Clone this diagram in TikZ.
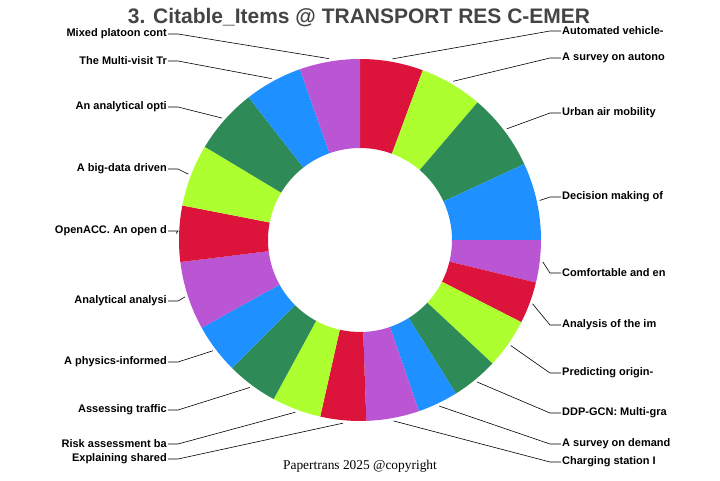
\documentclass[tikz,border=0pt]{standalone}
\usepackage{fontspec}
\setmainfont{Liberation Sans}
\newfontfamily\footfont{Liberation Serif}
\definecolor{segA}{HTML}{DC143C}
\definecolor{segB}{HTML}{ADFF2F}
\definecolor{segC}{HTML}{2E8B57}
\definecolor{segD}{HTML}{1E90FF}
\definecolor{segE}{HTML}{BA55D3}
\definecolor{titlegray}{HTML}{444444}
\tikzset{
  lbl/.style={font=\fontsize{11}{13}\selectfont\bfseries, inner sep=1pt},
  lead/.style={draw=black, line width=0.6pt},
}
\begin{document}
\begin{tikzpicture}[x=1pt,y=1pt]
\useasboundingbox (0,0) rectangle (720,480);
\coordinate (c) at (360,240);
% ring segments
\foreach \a/\b/\col in {90/69.7/segA,69.7/49.5/segB,49.5/24.8/segC,24.8/0/segD,0/-13.6/segE,
  -13.6/-27/segA,-27/-43/segB,-43/-58/segC,-58/-71/segD,-71/-88/segE,
  -88/-102.7/segA,-102.7/-118.5/segB,-118.5/-135/segC,-135/-151/segD,-151/-173/segE,
  -173/-191/segA,-191/-211/segB,-211/-232/segC,-232/-250.6/segD,-250.6/-270/segE}
  \fill[\col] ([shift={(c)}]\a:181) arc[start angle=\a,end angle=\b,radius=181]
    -- ([shift={(c)}]\b:92) arc[start angle=\b,end angle=\a,radius=92] -- cycle;
% right labels
\foreach \m/\y/\t [count=\i] in {79.85/449/Automated vehicle-,59.6/422/A survey on autono,
  37.15/367/Urban air mobility,12.4/283/Decision making of,-6.8/207/Comfortable and en,
  -20.3/155/Analysis of the im,-35/107/Predicting origin-,-50.5/67/DDP-GCN: Multi-gra,
  -64.5/36/A survey on demand,-79.5/18/Charging station I}{
  \coordinate (r\i) at ([shift={(c)}]\m:184);
  \node[lbl, anchor=west] (rl\i) at (561,\y) {\t};
  \draw[lead] (r\i) -- (550,\y) -- (rl\i.west);
}
% left labels
\foreach \m/\y/\t [count=\i] in {99.7/446/Mixed platoon cont,118.7/419/The Multi-visit Tr,
  138.5/373/An analytical opti,159/311/A big-data driven,178/249/OpenACC. An open d,
  198/179/Analytical analysi,217/118/A physics-informed,233.25/70/Assessing traffic,
  249.4/36/Risk assessment ba,264.65/21/Explaining shared}{
  \coordinate (l\i) at ([shift={(c)}]\m:184);
  \node[lbl, anchor=east] (ll\i) at (168,\y) {\t};
  \draw[lead] (l\i) -- (178,\y) -- (ll\i.east);
}
\node[font=\fontsize{21}{24}\selectfont\bfseries, text=titlegray] (title) at (359,462) {3. Citable\_Items @ TRANSPORT RES C-EMER};
\node[font=\footfont\fontsize{13.4}{15}\selectfont] (foot) at (360,14) {Papertrans 2025 @copyright};
\end{tikzpicture}
\end{document}
